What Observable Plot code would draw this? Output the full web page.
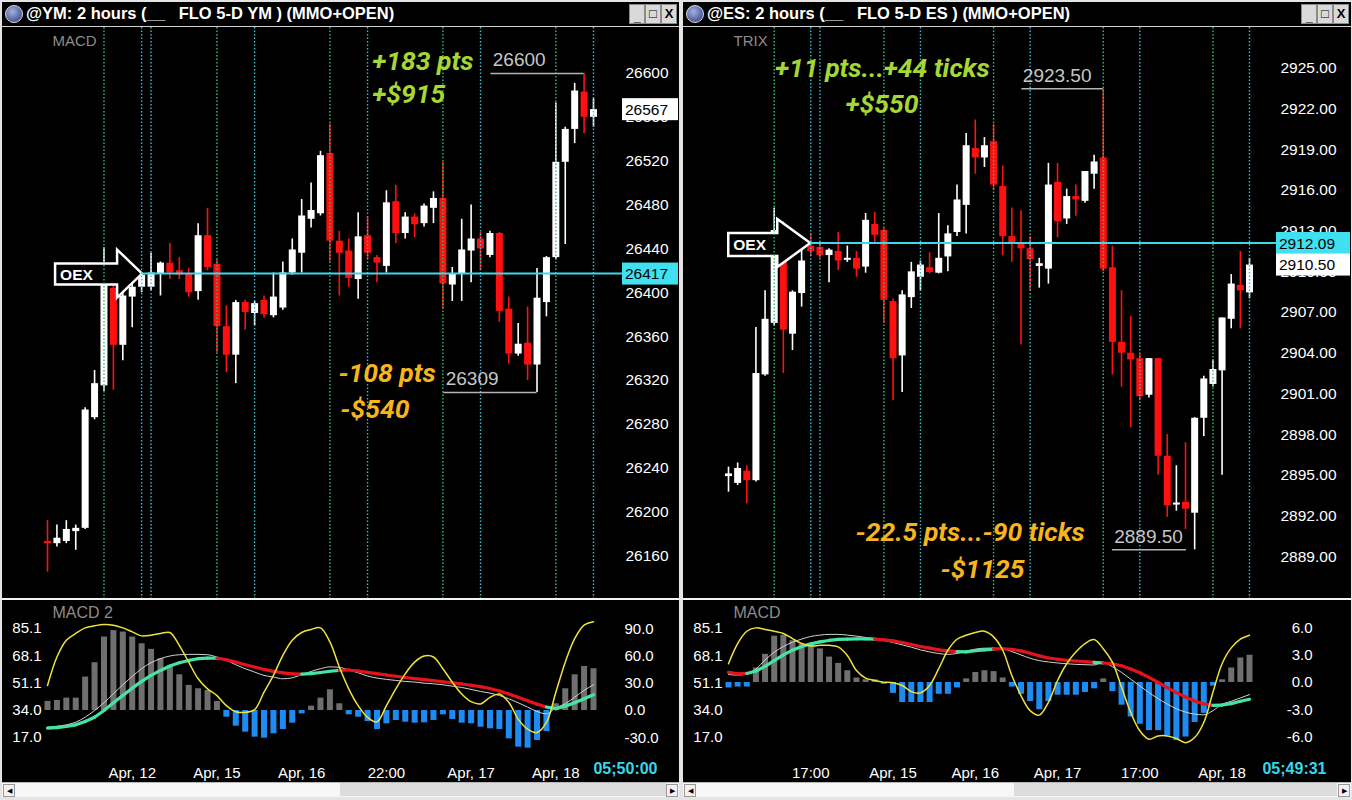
<!DOCTYPE html>
<html>
<head>
<meta charset="utf-8">
<script src="https://cdn.jsdelivr.net/npm/d3@7"></script>
<script src="https://cdn.jsdelivr.net/npm/@observablehq/plot@0.6"></script>
<style>
  html,body{margin:0;padding:0}
  body{width:1352px;height:800px;background:#e4e4e4;position:relative;overflow:hidden;font-family:"Liberation Sans",Arial,sans-serif}
  .blk{position:absolute;background:#000}
  .title{position:absolute;color:#fff;font-weight:bold;font-size:16.5px;white-space:pre;line-height:24px}
  .btn{position:absolute;width:14px;height:18px;background:#d9d9d9;border:1px solid #8a8a8a;color:#000;font-size:13px;line-height:18px;text-align:center;font-weight:bold}
  .icon{position:absolute;width:16px;height:16px;border-radius:50%;background:radial-gradient(circle at 40% 35%,#a4b0e0,#26367a);border:1px solid #ddd}
  .sb{position:absolute;height:14px;background:#f7f7f7;border-top:1px solid #b8b8b8}
  .thumb{position:absolute;height:13px;background:#dcdcdc}
  .arr{position:absolute;width:10px;height:11px;background:#f2f2f2;border:1px solid #999;font-size:7px;line-height:11px;text-align:center;color:#000}
  .sep{position:absolute;background:#f2f2f2}
  .mini{position:absolute;width:17px;height:7px;background:#c9ccd8;color:#2848a8;font-size:9px;line-height:7px;text-align:center;font-weight:bold}
  .panel{position:absolute}
</style>
</head>
<body>
<script>
// ---------------- DATA: @YM 2-hour candles ----------------
const ymOpen  = [26173,26171,26173,26182,26185,26286,26315,26404,26352,26396,26405,26405,26417,26427,26420,26417,26401,26452,26426,26369,26343,26391,26381,26393,26379,26386,26418,26436,26467,26472,26527,26447,26438,26412,26452,26432,26424,26483,26454,26469,26463,26477,26486,26407,26417,26438,26449,26434,26454,26385,26344,26354,26334,26391,26432,26519,26549,26583,26560];
const ymHigh  = [26192,26188,26192,26188,26295,26329,26441,26410,26400,26408,26418,26436,26428,26445,26432,26422,26463,26477,26430,26388,26393,26393,26392,26397,26418,26428,26449,26485,26500,26529,26554,26456,26449,26473,26469,26434,26493,26498,26473,26472,26481,26492,26519,26423,26467,26480,26455,26456,26455,26396,26372,26387,26422,26433,26573,26551,26591,26600,26577];
const ymLow   = [26145,26168,26171,26165,26184,26284,26310,26311,26338,26368,26400,26402,26397,26412,26412,26396,26393,26420,26345,26327,26317,26366,26370,26377,26377,26384,26416,26418,26459,26470,26428,26397,26405,26394,26430,26409,26418,26445,26449,26450,26460,26463,26385,26392,26392,26409,26420,26432,26373,26335,26342,26320,26309,26378,26430,26444,26536,26545,26551];
const ymClose = [26171,26176,26184,26185,26293,26317,26420,26352,26397,26405,26416,26418,26427,26418,26416,26400,26452,26423,26369,26343,26391,26382,26390,26380,26396,26418,26439,26470,26475,26525,26447,26436,26413,26451,26436,26427,26482,26454,26469,26462,26479,26486,26408,26417,26439,26449,26440,26454,26383,26344,26353,26334,26395,26432,26519,26549,26584,26560,26567];
const ymPriceTicks = [26160,26200,26240,26280,26320,26360,26400,26440,26480,26520,26560,26600];
const ymSessionLines = [6,18,30,42,54];
const ymMarkLines = [10,11,22,34,46,58];
const ymOexLevel = 26417;
const ymLast = 26567;
// MACD 2 study (YM)
const ymHist   = [10,11,13.6,13.6,36.8,52.6,80.9,87.9,86.4,80.9,73.5,67.3,57,49.6,39.3,27.6,23.9,22,9.9,-7.4,-17.3,-23.9,-29.4,-30.5,-25.7,-21,-14,-3.7,4.8,13.6,22.8,7.4,-4.8,-7.4,-12.1,-21,-14.7,-11,-12.9,-14,-13.6,-11,-4.8,-9.9,-14,-14.7,-18.4,-20.2,-21,-31.3,-40.4,-41.5,-33.1,-23.2,7.4,23.9,39.3,48.5,46];
const ymMacd   = [-18.4,-17.3,-15.8,-12.9,-7.4,0,8.5,18.4,28.3,37.5,46,52.6,57,60,61.4,61.8,61.8,61.4,58.8,55.1,50.4,46,42.3,38.6,36.8,34.9,36,39.5,43,46,48,47.5,44.5,41.5,37.9,35.7,34.2,33.1,32,31.3,30.1,29.4,28.3,26.8,25.4,23.2,21,19.1,16.5,12.9,8.5,3.7,-1.1,-3.7,3,7.4,14.7,22.1,28.3];
const ymSignal = [-19.5,-18.8,-17.6,-15.8,-12.1,-7.4,0,8.5,16.5,24.6,32,38.6,44.1,48.9,52.6,55.1,57,57.7,57.7,55.9,53.3,50.4,47.8,45.2,43,41.5,40.4,40.1,40.6,41.8,43.2,44.2,44.6,43.5,42,40.5,39.1,37.7,36.3,35,34,32.8,31.6,30.4,29.2,27.8,26.2,24.2,21.5,18.2,14.6,10.8,7,3.8,2,4.8,8.5,12.9,17.3];
const ymOsc    = [49.5,67.3,77.8,82,85.5,86.8,87.6,87.2,85.5,83,80.5,80.9,82,82.6,74.6,64.1,53.7,47.4,43.2,36.9,33.1,32.7,34.4,45.3,55.8,68.3,77.8,82.6,84.5,85.5,76.7,61,47.4,36.9,29.6,26.8,36.9,47.4,56.8,64.1,67.9,67.3,60,51.6,44.2,39.4,38,42.1,44.2,39,28.5,22.2,20.1,26.4,45.3,64.1,78.8,87.2,89.3];
const ymMacdTicks = [90,60,30,0,-30];
const ymDateLabels = [{i:9,t:"Apr, 12"},{i:18,t:"Apr, 15"},{i:27,t:"Apr, 16"},{i:36,t:"22:00"},{i:45,t:"Apr, 17"},{i:54,t:"Apr, 18"}];

// ---------------- DATA: @ES 2-hour candles ----------------
const esOpen  = [2894.9,2894.4,2895.3,2894.6,2902.4,2906.2,2913.3,2905.4,2908.4,2911.9,2911.8,2911.2,2911.5,2910.85,2911.0,2910.35,2913.5,2913.05,2907.8,2903.8,2908.1,2909.6,2910.3,2909.9,2911.1,2912.9,2914.9,2919.1,2918.4,2919.6,2916.3,2912.6,2912.1,2911.7,2910.4,2910.2,2916.6,2913.9,2915.55,2915.2,2917.2,2918.4,2910.3,2904.8,2904.0,2903.6,2900.9,2903.6,2896.4,2892.8,2893.0,2892.2,2899.2,2901.7,2902.7,2906.5,2909.0,2908.45];
const esHigh  = [2895.6,2895.9,2895.7,2905.9,2908.6,2914.7,2913.7,2908.6,2911.8,2912.8,2912.1,2911.7,2912.9,2911.9,2911.5,2914.3,2914.4,2913.2,2908.0,2908.6,2910.7,2910.8,2911.4,2914.3,2913.4,2916.4,2920.2,2921.2,2919.9,2920.9,2917.8,2914.7,2914.5,2912.6,2911.0,2918.0,2918.0,2916.1,2916.4,2917.4,2918.6,2923.5,2911.9,2908.6,2906.7,2903.9,2903.6,2903.6,2898.0,2895.7,2897.4,2899.25,2902.3,2903.5,2906.6,2909.8,2911.5,2911.0];
const esLow   = [2893.75,2894.25,2892.9,2894.5,2902.3,2906.0,2902.5,2904.2,2907.4,2911.1,2911.0,2909.2,2910.1,2910.7,2909.6,2909.9,2912.1,2906.2,2900.5,2901.1,2907.3,2908.6,2909.85,2909.85,2910.0,2912.6,2912.8,2917.2,2917.7,2916.0,2911.2,2910.7,2904.6,2908.6,2908.8,2909.1,2912.5,2913.5,2914.1,2915.05,2916.1,2910.0,2902.4,2901.5,2898.5,2900.5,2900.7,2895.0,2891.9,2892.35,2891.0,2889.5,2897.85,2901.5,2895.0,2905.8,2905.8,2908.0];
const esClose = [2895.1,2895.5,2894.6,2902.5,2906.5,2913.05,2905.7,2908.5,2910.8,2911.5,2911.2,2911.6,2910.8,2911.0,2910.2,2913.8,2912.7,2907.9,2903.6,2908.3,2910.0,2910.5,2909.95,2911.0,2912.8,2915.3,2919.3,2918.4,2919.3,2916.4,2912.6,2912.1,2911.7,2910.9,2910.6,2916.4,2913.7,2915.55,2915.3,2917.4,2918.1,2910.2,2904.8,2904.0,2903.5,2900.8,2903.6,2896.4,2892.75,2892.95,2892.5,2899.2,2902.1,2902.8,2906.6,2909.1,2908.6,2910.5];
const esPriceTicks = [2889,2892,2895,2898,2901,2904,2907,2910,2913,2916,2919,2922,2925];
const esSessionLines = [5,17,29,41,53];
const esMarkLines = [9,10,21,33,45,57];
const esOexLevel = 2912.09;
const esLast = 2910.50;
// MACD study (ES)
const esHist   = [-0.6,-0.5,-0.5,1.6,3.1,5.1,5.2,4.6,4.2,4.1,3.7,2.8,2.1,1.3,0.5,0.3,0.3,-0.2,-1.2,-2.2,-2.2,-2.2,-2.2,-1.3,-1.3,-0.6,0.4,1.1,1.3,1.2,0.5,-0.5,-1.3,-2.1,-3.0,-2.1,-1.4,-1.4,-1.4,-1.1,-0.7,0.4,-1.0,-2.5,-3.8,-4.6,-5.3,-5.3,-5.9,-6.4,-6.0,-4.4,-3.4,-0.4,0.3,1.6,2.7,3.0];
const esMacd   = [0.89,0.81,0.93,1.48,2.48,3.33,3.96,4.44,4.78,5.07,5.22,5.30,5.30,5.22,5.11,4.96,4.81,4.63,4.41,4.15,3.89,3.59,3.37,3.19,3.1,3.2,3.44,3.67,3.78,3.78,3.70,3.41,3.04,2.67,2.41,2.26,2.15,2.07,2.0,1.96,1.93,2.22,1.74,1.11,0.37,-0.37,-1.11,-1.78,-2.37,-2.89,-3.26,-3.48,-3.56,-3.1,-2.4,-2.07,-1.70,-1.33];
const esSignal = [1.11,0.96,1.0,1.26,1.78,2.41,3.04,3.56,3.96,4.26,4.48,4.63,4.74,4.78,4.81,4.81,4.78,4.70,4.59,4.41,4.19,3.96,3.78,3.59,3.48,3.41,3.38,3.52,3.59,3.67,3.72,3.66,3.48,3.22,2.93,2.70,2.56,2.44,2.37,2.30,2.22,2.15,2.07,1.85,1.48,1.07,0.56,0,-0.56,-1.11,-1.59,-2.04,-2.37,-2.52,-2.48,-2.33,-2.07,-1.85];
const esOsc    = [63.1,75.7,83.4,85.5,84.5,83.4,82,78.8,75.7,74.2,74.6,74.6,73.6,68.3,58.9,54.1,52.6,51.6,51.2,49.5,45.7,44.9,49.5,60,71.5,78.4,80.9,82.6,83.4,79.9,71.5,55.8,43.2,33.8,31.0,39,52.6,63.1,70.4,75.7,78.2,72.5,64.1,48.4,32.7,21.2,15.9,18.0,18.0,16.4,13.8,17.0,26.4,45.3,63.1,73,78.4,80.9];
const esMacdTicks = [6,3,0,-3,-6];
const esDateLabels = [{i:9,t:"17:00"},{i:18,t:"Apr, 15"},{i:27,t:"Apr, 16"},{i:36,t:"Apr, 17"},{i:45,t:"17:00"},{i:54,t:"Apr, 18"}];

const oscTicks = [85.1,68.1,51.1,34.0,17.0];

// ---------------- annotations (anchored in data space) ----------------
const ymNotes = [
  {t:"+183 pts", i:34.5, p:26611, k:"up"},
  {t:"+$915",    i:34.5, p:26581, k:"up"},
  {t:"-108 pts", i:30.9, p:26326, k:"down"},
  {t:"-$540",    i:31.1, p:26293, k:"down"}
];
const ymLevels = [
  {t:"26600", y:26600, x1:47.1, x2:57, tx:47.3, ty:26612},
  {t:"26309", y:26309, x1:42.1, x2:52, tx:42.3, ty:26321.5}
];
const esNotes = [
  {t:"+11 pts...+44 ticks",  i:5.1,  p:2925.0,  k:"up"},
  {t:"+$550",                i:12.8, p:2922.35, k:"up"},
  {t:"-22.5 pts...-90 ticks",i:13.9, p:2890.8,  k:"down"},
  {t:"-$1125",               i:23.2, p:2888.05, k:"down"}
];
const esLevels = [
  {t:"2923.50", y:2923.5, x1:32.1, x2:41,   tx:32.2, ty:2924.45},
  {t:"2889.50", y:2889.5, x1:42.0, x2:50.1, tx:42.2, ty:2890.45}
];

// ---------------- rendering ----------------
const FONT = "Liberation Sans, Arial, sans-serif";

function add(el, left, top) {
  el.style.left = left + "px"; el.style.top = top + "px";
  document.body.appendChild(el); return el;
}
function div(cls, left, top, css, html) {
  const d = document.createElement("div");
  d.className = cls;
  if (css) d.style.cssText = css;
  if (html !== undefined) d.innerHTML = html;
  return add(d, left, top);
}

function chrome(x0, w, title, thumbL, thumbR) {
  div("blk", x0, 2, `width:${w}px;height:780px`);
  div("sep", x0, 26, `width:${w}px;height:1px;background:#cfcfcf`);
  div("sep", x0, 598, `width:${w}px;height:2px`);
  div("icon", x0 + 3, 5);
  const t = div("title", x0 + 24, 1); t.textContent = title;
  div("btn", x0 + w - 50, 4, "", "<span style='position:relative;top:3px'>_</span>");
  div("btn", x0 + w - 34, 4, "", "&#9633;");
  div("btn", x0 + w - 18, 4, "", "X");
  div("mini", x0 + w - 19, 28, "", "&laquo;");
  div("sb", x0, 782, `width:${w}px`);
  div("thumb", thumbL, 783, `width:${thumbR - thumbL}px`);
  div("arr", x0 + 1, 784, "", "&#9664;");
  div("arr", x0 + w - 13, 784, "", "&#9654;");
}

function candlePanel(c) {
  const rows = c.open.map((o, i) => ({i, o, h: c.high[i], l: c.low[i], c: c.close[i]}));
  const tone = d => d.c >= d.o ? "#ffffff" : "#ff1010";
  const noteColor = {up: "#a6d733", down: "#f7b51d"};
  const svg = Plot.plot({
    width: c.width, height: c.height, margin: 0,
    style: {background: "#000", display: "block", fontFamily: FONT, overflow: "visible"},
    x: {type: "linear", domain: c.xDomain, range: c.xRange, axis: null},
    y: {type: "linear", domain: c.yDomain, range: [c.height, 0], axis: null},
    marks: [
      Plot.text(c.ticks, {y: d => d, text: c.fmt, frameAnchor: "right", dx: c.tickDx, textAnchor: "start", fill: "#fff", fontSize: 15.5}),
      Plot.ruleX(rows, {x: "i", y1: "l", y2: "h", stroke: tone, strokeWidth: 1.6}),
      Plot.ruleX(rows, {x: "i", y1: "o", y2: "c", stroke: tone, strokeWidth: 7}),
      Plot.ruleX(c.greens, {stroke: "#2fc070", strokeWidth: 1.4, strokeDasharray: "1.5,2"}),
      Plot.ruleX(c.cyans, {stroke: "#3abdd4", strokeWidth: 1.4, strokeDasharray: "1.5,2"}),
      Plot.ruleY(c.levels, {y: "y", x1: "x1", x2: "x2", stroke: "#b4b4b4", strokeWidth: 1.6}),
      Plot.text(c.levels, {x: "tx", y: "ty", text: "t", textAnchor: "start", fill: "#c6c6c6", fontSize: 19}),
      Plot.text(c.notes, {x: "i", y: "p", text: "t", textAnchor: "start", fill: d => noteColor[d.k], fontSize: 26.5, fontStyle: "italic", fontWeight: "bold", fontFamily: "Roboto, Liberation Sans, sans-serif"}),
      Plot.text([c.study], {frameAnchor: "top-left", dx: 49, dy: 14, lineAnchor: "middle", textAnchor: "start", fill: "#8c8c8c", fontSize: 15})
    ]
  });
  const X = svg.scale("x"), Y = svg.scale("y");
  const s = d3.select(svg);
  const tx = X.apply(c.oexTip), ty = Y.apply(c.oex), a = c.arrow;
  // OEX arrow (under the dotted session lines)
  const g = document.createElementNS("http://www.w3.org/2000/svg", "g");
  const ag = d3.select(g);
  ag.append("path")
    .attr("d", `M${tx},${ty}L${tx - a.head},${ty - a.hh}L${tx - a.head},${ty - a.bt}L${tx - a.len},${ty - a.bt}L${tx - a.len},${ty + a.bb}L${tx - a.head},${ty + a.bb}L${tx - a.head},${ty + a.hh}Z`)
    .attr("fill", "#000").attr("stroke", "#fff").attr("stroke-width", 2.5).attr("stroke-linejoin", "miter");
  ag.append("text").attr("x", tx - a.len + 5).attr("y", ty + 1).attr("dy", "0.36em").attr("text-anchor", "start")
    .attr("fill", "#fff").attr("font-weight", "bold").attr("font-size", 15.5).attr("font-family", FONT).text("OEX");
  const groups = svg.querySelectorAll(":scope > g");
  svg.insertBefore(g, groups[3] || null);
  // OEX level line from the arrow tip to the price box
  s.append("line").attr("x1", tx).attr("x2", c.boxX).attr("y1", ty).attr("y2", ty)
    .attr("stroke", "#3dd8ea").attr("stroke-width", 2);
  // value boxes on the price scale
  c.boxes.forEach(b => {
    const yy = Y.apply(b.v);
    s.append("rect").attr("x", c.boxX).attr("y", yy - 11).attr("width", c.boxW).attr("height", 22)
      .attr("fill", b.kind === "oex" ? "#3fe0f0" : "#ffffff");
    s.append("text").attr("x", c.boxX + 3).attr("y", yy).attr("dy", "0.36em").attr("text-anchor", "start").attr("fill", "#000")
      .attr("font-size", 15.5).attr("font-family", FONT).text(c.fmt(b.v));
  });
  return svg;
}

function macdPanel(c) {
  const n = c.hist.length;
  const bars = c.hist.map((v, i) => ({i, v}));
  const segs = d3.range(n - 1).map(i => ({a: i, b: i + 1, s0: c.signal[i], s1: c.signal[i + 1], up: c.macd[i + 1] >= c.signal[i + 1]}));
  const box = document.createElement("div");
  box.className = "panel";
  box.style.width = c.width + "px"; box.style.height = c.height + "px";
  const base = Plot.plot({
    width: c.width, height: c.height, margin: 0,
    style: {background: "#000", display: "block", fontFamily: FONT, overflow: "visible"},
    x: {type: "linear", domain: c.xDomain, range: c.xRange, axis: null},
    y: {type: "linear", domain: c.yDomain, range: [c.height, 0], axis: null},
    marks: [
      Plot.ruleX(bars, {x: "i", y1: 0, y2: "v", stroke: d => d.v >= 0 ? "#6f6f6f" : "#1e8bf2", strokeWidth: 6}),
      Plot.line(c.macd, {x: (d, i) => i, y: d => d, stroke: "#d2d2d2", strokeWidth: 1, curve: "monotone-x"}),
      Plot.link(segs, {x1: "a", x2: "b", y1: "s0", y2: "s1", stroke: d => d.up ? "#45e3a4" : "#e3141b", strokeWidth: 3.2, strokeLinecap: "round"}),
      Plot.text(c.rTicks, {y: d => d, text: d => d.toFixed(1), frameAnchor: "right", dx: c.rDx, textAnchor: c.rAnchor, fill: "#fff", fontSize: 15}),
      Plot.text(c.xLabels, {x: "i", text: "t", frameAnchor: "bottom", dy: -9, lineAnchor: "middle", fill: "#fff", fontSize: 15}),
      Plot.text([c.timer], {frameAnchor: "bottom-right", dx: c.timerDx, dy: -14, textAnchor: "end", lineAnchor: "middle", fill: "#36d7e8", fontWeight: "bold", fontSize: 16}),
      Plot.text([c.study], {frameAnchor: "top-left", dx: 49, dy: 12, lineAnchor: "middle", textAnchor: "start", fill: "#8c8c8c", fontSize: 16})
    ]
  });
  const over = Plot.plot({
    width: c.width, height: c.height, margin: 0,
    style: {background: "transparent", display: "block", position: "absolute", left: "0px", top: "0px", fontFamily: FONT, overflow: "visible"},
    x: {type: "linear", domain: c.xDomain, range: c.xRange, axis: null},
    y: {type: "linear", domain: c.oscDomain, range: [c.height, 0], axis: null},
    marks: [
      Plot.line(c.osc, {x: (d, i) => i, y: d => d, stroke: "#efe23a", strokeWidth: 1.5, curve: "catmull-rom"}),
      Plot.text(c.lTicks, {y: d => d, text: d => d.toFixed(1), frameAnchor: "left", dx: 38, textAnchor: "end", fill: "#fff", fontSize: 15})
    ]
  });
  box.appendChild(base); box.appendChild(over);
  return box;
}

// window frames
chrome(2, 677, "@YM: 2 hours (__   FLO 5-D YM ) (MMO+OPEN)", 340, 666);
chrome(683, 668, "@ES: 2 hours (__   FLO 5-D ES ) (MMO+OPEN)", 1014, 1337);

// YM main panel
const ymMain = candlePanel({
  open: ymOpen, high: ymHigh, low: ymLow, close: ymClose,
  width: 675, height: 571, xDomain: [0, 58], xRange: [44, 590], yDomain: [26120.99, 26641.97],
  ticks: ymPriceTicks, fmt: d => String(Math.round(d)), tickDx: -53,
  greens: ymSessionLines, cyans: ymMarkLines, oex: ymOexLevel, oexTip: 10.1,
  arrow: {len: 87, head: 25, hh: 24, bt: 10, bb: 11},
  levels: ymLevels, notes: ymNotes, study: "MACD",
  boxes: [{v: ymLast, kind: "last"}, {v: ymOexLevel, kind: "oex"}], boxX: 619, boxW: 56
});
const w1 = document.createElement("div"); w1.className = "panel"; w1.appendChild(ymMain); add(w1, 3, 27);

// ES main panel
const esMain = candlePanel({
  open: esOpen, high: esHigh, low: esLow, close: esClose,
  width: 666, height: 571, xDomain: [0, 57], xRange: [44, 565], yDomain: [2885.91, 2928.02],
  ticks: esPriceTicks, fmt: d => d.toFixed(2), tickDx: -70,
  greens: esSessionLines, cyans: esMarkLines, oex: esOexLevel, oexTip: 9,
  arrow: {len: 82, head: 33, hh: 24, bt: 10, bb: 13},
  levels: esLevels, notes: esNotes, study: "TRIX",
  boxes: [{v: esOexLevel, kind: "oex"}, {v: esLast, kind: "last"}], boxX: 592, boxW: 74
});
const w2 = document.createElement("div"); w2.className = "panel"; w2.appendChild(esMain); add(w2, 684, 27);

// lower studies
add(macdPanel({
  hist: ymHist, macd: ymMacd, signal: ymSignal, osc: ymOsc,
  width: 675, height: 182, xDomain: [0, 58], xRange: [44, 590],
  yDomain: [-79.3, 121.1], oscDomain: [-11.1, 102.6],
  rTicks: ymMacdTicks, rDx: -54, rAnchor: "start", lTicks: oscTicks,
  xLabels: ymDateLabels, timer: "05;50:00", timerDx: -21, study: "MACD 2"
}), 3, 600);
add(macdPanel({
  hist: esHist, macd: esMacd, signal: esSignal, osc: esOsc,
  width: 666, height: 182, xDomain: [0, 57], xRange: [44, 565],
  yDomain: [-11.01, 9.03], oscDomain: [-11.1, 102.6],
  rTicks: esMacdTicks, rDx: -38, rAnchor: "end", lTicks: oscTicks,
  xLabels: esDateLabels, timer: "05;49:31", timerDx: -24, study: "MACD"
}), 684, 600);
</script>
</body>
</html>
